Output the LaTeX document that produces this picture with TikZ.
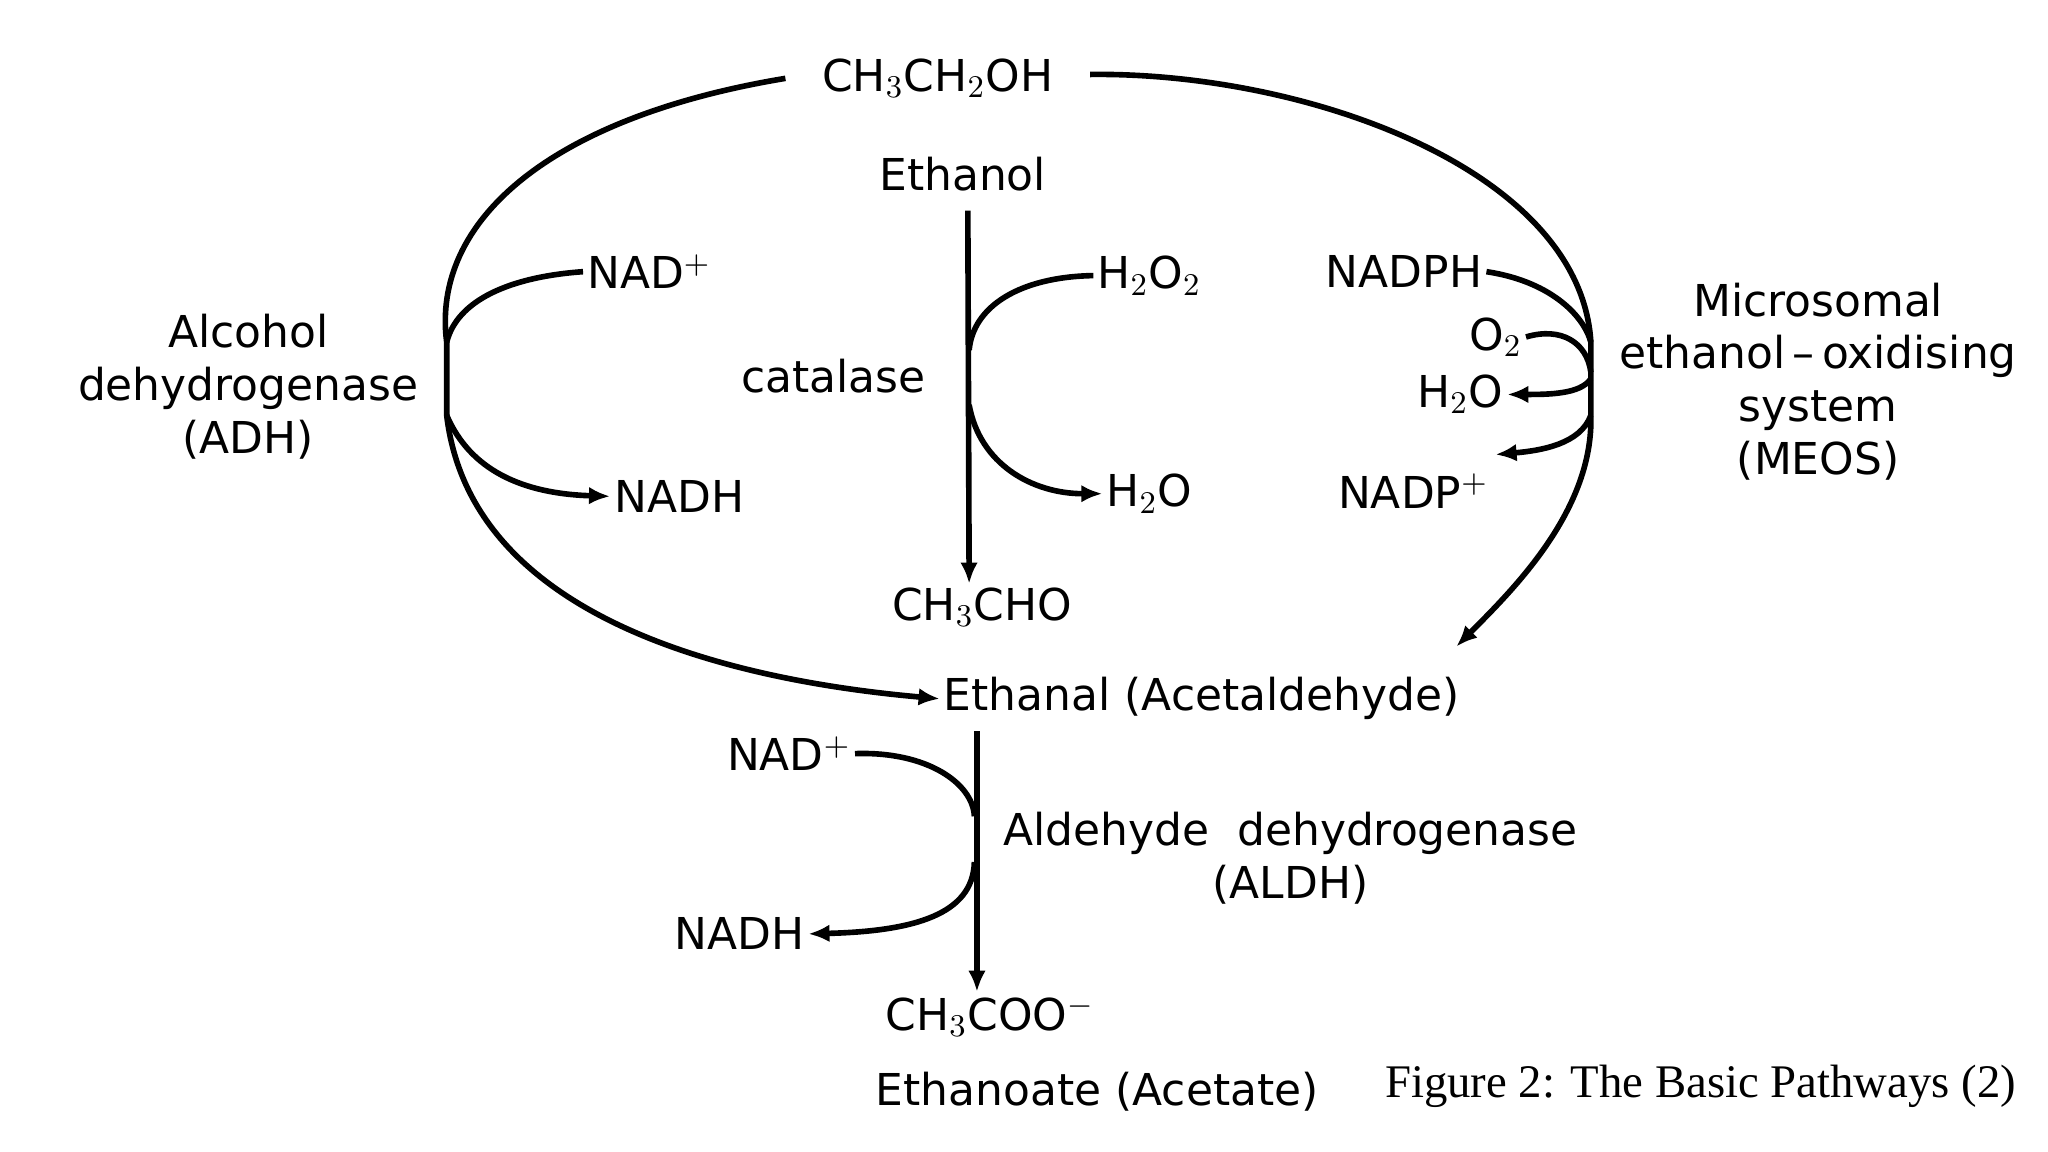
\documentclass[tikz,border=0pt]{standalone}
\usepackage{fontspec}
\setmainfont{DejaVu Sans}
\newfontfamily\capfont{Liberation Serif}
\usetikzlibrary{arrows.meta}
\begin{document}
\begin{tikzpicture}[
  x=0.01306cm, y=-0.01306cm,
  lbl/.style={font=\fontsize{12.5}{15}\selectfont, align=center, inner sep=1pt},
  path/.style={line width=1.6pt},
  flow/.style={line width=1.6pt, -{Latex[length=6pt,width=5pt]}}
]
  \useasboundingbox (0,0) rectangle (1568,882);

  % compounds
  \node (etoh) [lbl] at (718,60) {CH$_3$CH$_2$OH};
  \node (ethanol) [lbl] at (737,133) {Ethanol};
  \node (acho) [lbl] at (752,465) {CH$_3$CHO};
  \node (ethanal) [lbl] at (920,535) {Ethanal (Acetaldehyde)};
  \node (acoo) [lbl] at (758,778) {CH$_3$COO$^-$};
  \node (acetate) [lbl] at (840,836) {Ethanoate (Acetate)};

  % enzymes
  \node (adh) [lbl] at (190,296) {Alcohol\\dehydrogenase\\(ADH)};
  \node (cat) [lbl] at (638,288) {catalase};
  \node (meos) [lbl] at (1392,292) {Microsomal\\ethanol\,--\,oxidising\\system\\(MEOS)};
  \node (aldh) [lbl] at (988,657) {Aldehyde\ \ dehydrogenase\\(ALDH)};

  % cofactors
  \node (nad1) [lbl] at (497,208) {NAD$^+$};
  \node (nadh1) [lbl] at (520,380) {NADH};
  \node (hoo) [lbl] at (880,211) {H$_2$O$_2$};
  \node (ho1) [lbl] at (880,378) {H$_2$O};
  \node (nadph) [lbl] at (1075,208) {NADPH};
  \node (oo) [lbl] at (1145,258) {O$_2$};
  \node (ho2) [lbl] at (1118,302) {H$_2$O};
  \node (nadp) [lbl] at (1082,376) {NADP$^+$};
  \node (nad2) [lbl] at (604,577) {NAD$^+$};
  \node (nadh2) [lbl] at (566,715) {NADH};

  \node (cap) [anchor=west, inner sep=0pt] at (1060,832) {\capfont\fontsize{13.3}{15}\selectfont Figure 2: The Basic Pathways (2)};

  % ADH route
  \coordinate (a1) at (342,262);
  \coordinate (a2) at (342,318);
  \draw [flow] (etoh.west) ++(-25,0) .. controls (420,90) and (330,170) .. (a1)
    -- (a2) .. controls (360,470) and (550,520) .. (ethanal.west);
  \draw [path] (nad1.west) .. controls (390,212) and (350,230) .. (a1);
  \draw [flow] (a2) .. controls (360,360) and (400,378) .. (nadh1.west);

  % catalase route
  \coordinate (c1) at (742,268);
  \coordinate (c2) at (742,310);
  \draw [flow] (ethanol.south) ++(4,12) -- (acho.north -| 742,0);
  \draw [path] (hoo.west) .. controls (780,212) and (745,235) .. (c1);
  \draw [flow] (c2) .. controls (750,355) and (790,378) .. (ho1.west);

  % MEOS route
  \coordinate (m1) at (1218,262);
  \coordinate (m2) at (1218,318);
  \draw [flow] (etoh.east) ++(25,-3) .. controls (1000,55) and (1210,130) .. (m1)
    -- (m2) .. controls (1220,390) and (1160,450) .. (1115,495);
  \draw [path] (nadph.east) .. controls (1185,215) and (1212,240) .. (m1);
  \draw [path] (oo.east) .. controls (1195,250) and (1215,262) .. (1218,285);
  \draw [flow] (1218,290) .. controls (1210,302) and (1185,302) .. (ho2.east);
  \draw [flow] (m2) .. controls (1210,340) and (1180,345) .. (1145,348);

  % ALDH route
  \coordinate (d1) at (746,625);
  \coordinate (d2) at (746,660);
  \draw [flow] (748,560) -- (acoo.north -| 748,0);
  \draw [path] (nad2.east) .. controls (710,575) and (745,600) .. (d1);
  \draw [flow] (d2) .. controls (745,700) and (700,713) .. (nadh2.east);
\end{tikzpicture}
\end{document}
